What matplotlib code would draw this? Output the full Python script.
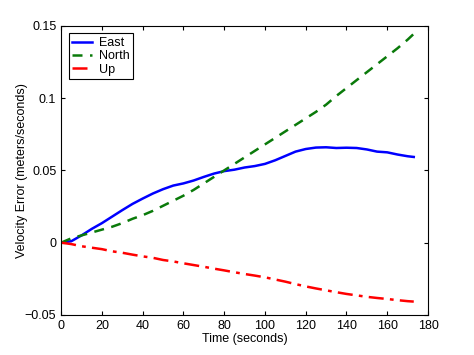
import matplotlib
matplotlib.use("Agg")
import matplotlib.pyplot as plt
import numpy as np

plt.rcParams["font.family"] = ["Liberation Sans", "DejaVu Sans"]

t = [0, 5, 10, 15, 20, 25, 30, 35, 40, 45, 50, 55, 60, 65, 70, 75, 80, 85, 90, 95,
     100, 105, 110, 115, 120, 125, 130, 135, 140, 145, 150, 155, 160, 165, 170, 173]
east = [0.0, 0.001, 0.005, 0.0095, 0.0135, 0.018, 0.0225, 0.0268, 0.0305, 0.034, 0.037,
        0.0395, 0.041, 0.043, 0.0455, 0.0478, 0.0495, 0.0505, 0.052, 0.053,
        0.0545, 0.057, 0.060, 0.063, 0.0648, 0.0658, 0.066, 0.0655, 0.0657, 0.0655,
        0.0645, 0.063, 0.0625, 0.061, 0.0598, 0.0593]
north = [0.0, 0.003, 0.005, 0.007, 0.009, 0.011, 0.0135, 0.0165, 0.019, 0.022, 0.0255,
         0.029, 0.0325, 0.0365, 0.041, 0.0455, 0.050, 0.0545, 0.059, 0.0635,
         0.068, 0.0725, 0.077, 0.0815, 0.086, 0.0905, 0.0955, 0.1015, 0.107, 0.1125,
         0.118, 0.1235, 0.129, 0.1345, 0.1405, 0.1445]
up = [0.0, -0.001, -0.0025, -0.0035, -0.0045, -0.006, -0.007, -0.0083, -0.0095, -0.0105,
      -0.012, -0.013, -0.0143, -0.0155, -0.0167, -0.018, -0.0192, -0.0205, -0.0217, -0.0228,
      -0.024, -0.0255, -0.027, -0.0287, -0.0303, -0.0317, -0.033, -0.0343, -0.0355, -0.0365,
      -0.0375, -0.0383, -0.039, -0.0398, -0.0405, -0.0408]

fig = plt.figure(figsize=(4.74, 3.55), dpi=100)
ax = fig.add_axes([0.129, 0.113, 0.774, 0.814])

ax.plot(t, east, color="#0000ff", linewidth=1.8, label="East")
ax.plot(t, north, color="#0a7a0a", linewidth=1.8, linestyle=(0, (4, 3)), label="North")
ax.plot(t, up, color="#ff0000", linewidth=1.8, linestyle=(0, (6, 2.5, 1.5, 2.5)), label="Up")

ax.set_xlim(0, 180)
ax.set_ylim(-0.05, 0.15)
ax.set_xticks(np.arange(0, 181, 20))
ax.set_yticks([-0.05, 0, 0.05, 0.1, 0.15])
ax.set_yticklabels(["\u22120.05", "0", "0.05", "0.1", "0.15"])
ax.tick_params(direction="in", labelsize=9, top=True, right=True, length=3)
ax.set_xlabel("Time (seconds)", fontsize=9, labelpad=1)
ax.set_ylabel("Velocity Error (meters/seconds)", fontsize=9, labelpad=-2)

leg = ax.legend(loc="upper left", fontsize=9, fancybox=False, edgecolor="black",
                handlelength=1.6, handletextpad=0.5, borderpad=0.3, labelspacing=0.1,
                framealpha=1, borderaxespad=0.6)
leg.get_frame().set_linewidth(0.8)

fig.savefig("out.png", dpi=100)
